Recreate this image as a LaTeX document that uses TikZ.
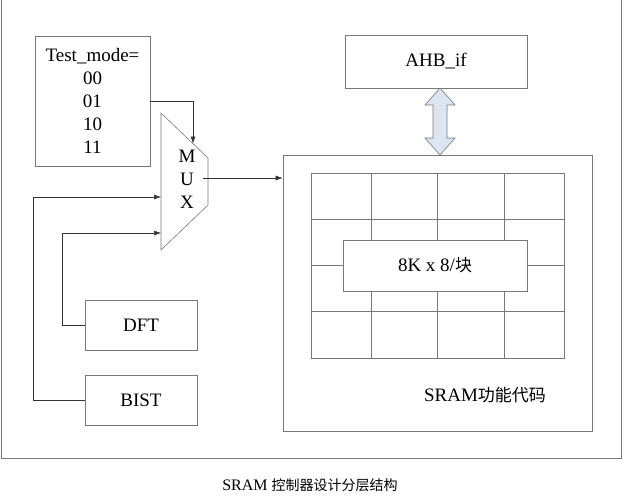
\documentclass[tikz,border=0pt]{standalone}
\usepackage{fontspec}
\setmainfont{Liberation Serif}
\newfontfamily\cjk{Noto Sans CJK SC}
\usetikzlibrary{arrows.meta}
\definecolor{frame}{RGB}{120,120,120}
\definecolor{arrowfill}{RGB}{220,230,242}
\begin{document}
\begin{tikzpicture}[x=1pt,y=-1pt,
  box/.style={draw=frame, line width=0.6pt, inner sep=0pt},
  lbl/.style={font=\fontsize{19}{23}\selectfont},
  conn/.style={draw=black!80, line width=0.5pt, -{Latex[length=7pt,width=5pt]}}]
\useasboundingbox (0,0) rectangle (624,501);
% outer frame
\draw[frame, line width=0.6pt] (1,0) -- (1,458) -- (621,458) -- (621,0);

% test mode box
\node[box, minimum width=115pt, minimum height=130pt] (tm) at (92.5,101) {};
\node[lbl, align=center] (tmtext) at (92.5,101) {Test\_mode=\\00\\01\\10\\11};

% MUX
\draw[frame, line width=0.6pt] (161,113) -- (208,158) -- (208,205) -- (161,250) -- cycle;
\coordinate (muxtop) at (193,143.5);
\coordinate (muxout) at (203,178);
\coordinate (muxin1) at (161,197);
\coordinate (muxin2) at (161,233);
\node[lbl, align=center] (mux) at (187,179) {M\\U\\X};

% DFT / BIST
\node[box, minimum width=112pt, minimum height=50pt, lbl] (dft) at (141,325) {DFT};
\node[box, minimum width=112pt, minimum height=50pt, lbl] (bist) at (141,400) {BIST};

% AHB
\node[box, minimum width=182pt, minimum height=53pt, lbl] (ahb) at (436,61.5) {AHB\_if};

% SRAM block
\node[box, minimum width=309pt, minimum height=276pt] (sram) at (437.5,293) {};
\draw[frame, line width=0.6pt] (311,173) rectangle (564,358);
\foreach \x in {371,437,504} \draw[frame, line width=0.6pt] (\x,173) -- (\x,358);
\foreach \y in {219,265,311} \draw[frame, line width=0.6pt] (311,\y) -- (564,\y);
\node[box, fill=white, minimum width=184pt, minimum height=51pt, lbl] (blk) at (435,265.5) {8K x 8/{\cjk\fontsize{17}{20}\selectfont 块}};
\node[lbl] (sramlbl) at (485,395) {SRAM{\cjk\fontsize{17}{20}\selectfont 功能代码}};

% double arrow
\filldraw[draw=frame, fill=arrowfill, line width=0.6pt]
  (440,88) -- (455,105) -- (447,105) -- (447,138) -- (455,138) -- (440,155)
  -- (425,138) -- (433,138) -- (433,105) -- (425,105) -- cycle;

% connectors
\draw[conn] (tm.east |- 0,101) -| (muxtop);
\draw[conn] (muxout) -- (sram.west |- muxout);
\draw[conn] (dft.west) -- (62,325) |- (muxin2);
\draw[conn] (bist.west) -- (33,400) |- (muxin1);

% caption
\node[font=\fontsize{16}{18}\selectfont] (cap) at (310,485) {SRAM {\cjk\fontsize{14}{16}\selectfont 控制器设计分层结构}};
\end{tikzpicture}
\end{document}
